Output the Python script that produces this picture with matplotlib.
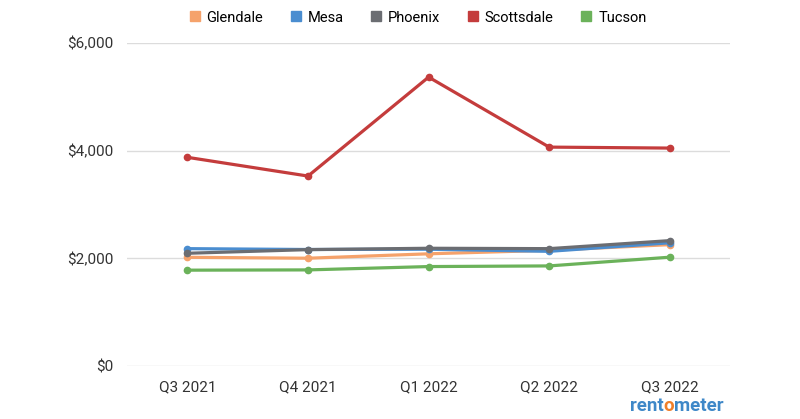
import matplotlib
matplotlib.use('Agg')
from matplotlib import pyplot as plt
from matplotlib.lines import Line2D
from matplotlib.ticker import FuncFormatter

plt.rcParams['font.family'] = ['Roboto', 'DejaVu Sans']

quarters = ['Q3 2021', 'Q4 2021', 'Q1 2022', 'Q2 2022', 'Q3 2022']
cities = ['Glendale', 'Mesa', 'Phoenix', 'Scottsdale', 'Tucson']

glendale = [2020, 2003, 2085, 2150, 2255]
mesa = [2181, 2165, 2170, 2131, 2290]
phoenix = [2095, 2163, 2188, 2181, 2330]
scottsdale = [3878, 3530, 5369, 4068, 4050]
tucson = [1781, 1786, 1848, 1860, 2022]

colors = ['#f5a26b', '#4a8dd0', '#6b6d72', '#c43c3c', '#6bb25a']
series = [glendale, mesa, phoenix, scottsdale, tucson]

fig = plt.figure(figsize=(8, 4.19), dpi=100)
ax = fig.add_axes([0.159, 0.1265, 0.7535, 0.7705])

x = range(len(quarters))
for name, vals, c in zip(cities, series, colors):
    ax.plot(x, vals, color=c, lw=2.3, marker='o', markersize=4.5,
            solid_capstyle='round', label=name)

ax.set_xlim(-0.5, 4.5)
ax.set_ylim(0, 6000)
ax.set_yticks([0, 2000, 4000, 6000])
ax.yaxis.set_major_formatter(FuncFormatter(lambda v, p: '${:,.0f}'.format(v)))
ax.set_xticks(list(x))
ax.set_xticklabels(quarters)
ax.tick_params(length=0, labelsize=11, labelcolor='#333333')
ax.tick_params(axis='y', pad=10)
ax.tick_params(axis='x', pad=10)
ax.grid(axis='y', color='#dcdcdc', lw=1)
ax.set_axisbelow(True)
for s in ax.spines.values():
    s.set_visible(False)

handles = [Line2D([], [], ls='none', marker='s', markersize=7, color=c) for c in colors]
fig.legend(handles, cities, loc='center', bbox_to_anchor=(0.522, 0.958), ncol=5,
           frameon=False, fontsize=10.5, handlelength=0.8, handletextpad=0.4,
           columnspacing=1.85)

# rentometer logo
t1 = fig.text(0.787, 0.018, 'rent', color='#3f88c8', fontsize=13.5, fontweight='bold')
t2 = ax.annotate('o', xy=(1, 0), xycoords=t1, va='bottom', color='#f07f2a',
                 fontsize=13.5, fontweight='bold')
ax.annotate('meter', xy=(1, 0), xycoords=t2, va='bottom', color='#3f88c8',
            fontsize=13.5, fontweight='bold')

fig.savefig('out.png', dpi=100)
